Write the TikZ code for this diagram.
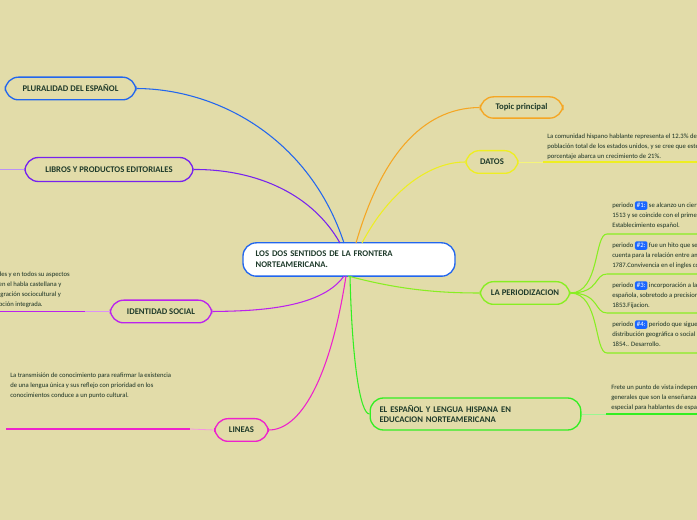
\documentclass[tikz,border=0pt]{standalone}
\usepackage{fontspec}
\setmainfont{Carlito}
\definecolor{bg}{HTML}{E2DCA9}
\definecolor{tx}{HTML}{1E3A2A}
\definecolor{cblue}{HTML}{2266EE}
\definecolor{cpurp}{HTML}{7722EE}
\definecolor{cviol}{HTML}{BB22EE}
\definecolor{cmag}{HTML}{EE22CC}
\definecolor{corg}{HTML}{F5A623}
\definecolor{cyel}{HTML}{EEEE22}
\definecolor{clime}{HTML}{88EE22}
\definecolor{cgrn}{HTML}{33EE22}
\definecolor{badge}{HTML}{1A66FF}
\begin{document}
\begin{tikzpicture}[x=0.75pt,y=-0.75pt,
  topic/.style={draw=#1,line width=1pt,rounded corners=10pt,fill=bg,text=tx,font=\bfseries\fontsize{6.5}{8}\selectfont,inner sep=0pt},
  body/.style={text=tx!85!black,font=\fontsize{5}{7.4}\selectfont,align=left,anchor=north west,inner sep=0pt},
  bdg/.style={fill=badge,text=white,rounded corners=1.5pt,inner sep=1.5pt,font=\fontsize{5}{6}\selectfont}]
\useasboundingbox (0,0) rectangle (697,520);
\fill[bg] (0,0) rectangle (697,520);
\clip (0,0) rectangle (697,520);
% center
\node[topic=cblue,fill=white,minimum width=159pt,minimum height=25pt,align=left,text width=140pt] (c) at (349,259.5) {LOS DOS SENTIDOS DE LA FRONTERA\\NORTEAMERICANA.};
% nodes
\node[topic=cblue,minimum width=98pt,minimum height=17pt] (plu) at (70.5,88.5) {PLURALIDAD DEL ESPAÑOL};
\node[topic=cpurp,minimum width=126pt,minimum height=18pt] (lib) at (109,169.5) {LIBROS Y PRODUCTOS EDITORIALES};
\node[topic=cviol,minimum width=76pt,minimum height=17pt] (ide) at (161,311.5) {IDENTIDAD SOCIAL};
\node[topic=cmag,minimum width=40pt,minimum height=17pt] (lin) at (241.5,430) {LINEAS};
\node[topic=corg,minimum width=62pt,minimum height=16pt] (top) at (521.5,107.5) {Topic principal};
\node[topic=cyel,minimum width=39pt,minimum height=17pt] (dat) at (492,162) {DATOS};
\node[topic=clime,minimum width=67pt,minimum height=17pt] (per) at (525,293) {LA PERIODIZACION};
\node[topic=cgrn,minimum width=158pt,minimum height=24pt,align=left,text width=144pt] (esp) at (475.5,414) {EL ESPAÑOL Y LENGUA HISPANA EN\\EDUCACION NORTEAMERICANA};
% connectors
\coordinate (ct) at (350,243); \coordinate (cb) at (348,276);
\draw[cblue,line width=0.8pt] (344,243) .. controls (310,140) and (220,89) .. (plu.east);
\draw[cpurp,line width=0.8pt] (340,243) .. controls (310,190) and (250,169) .. (lib.east);
\draw[corg,line width=0.8pt] (356,243) .. controls (380,160) and (420,108) .. (top.west);
\draw[cyel,line width=0.8pt] (362,243) .. controls (390,190) and (430,162) .. (dat.west);
\draw[cviol,line width=0.8pt] (344,276) .. controls (320,310) and (250,311) .. (ide.east);
\draw[cmag,line width=0.8pt] (346,276) .. controls (330,380) and (300,430) .. (lin.east);
\draw[clime,line width=0.8pt] (348,276) .. controls (400,290) and (440,293) .. (per.west);
\draw[cgrn,line width=0.8pt] (350,276) .. controls (352,360) and (360,414) .. (esp.west);
% leaf lines
\coordinate (l1) at (0,169.5); \draw[cpurp!50,line width=0.6pt] (lib.west) -- (l1);
\coordinate (l2a) at (85,311.5); \coordinate (l2b) at (0,311.5);
\draw[cviol!50,line width=0.6pt] (ide.west) -- (l2a); \draw[cviol,line width=1pt] (l2a) -- (l2b);
\coordinate (l3a) at (190,429); \coordinate (l3b) at (6,429);
\draw[cmag!50,line width=0.6pt] (lin.west) -- (l3a); \draw[cmag,line width=1pt] (l3a) -- (l3b);
\coordinate (l4a) at (543,162); \coordinate (l4b) at (697,162);
\draw[cyel!60,line width=0.6pt] (dat.east) -- (l4a); \draw[cyel,line width=1pt] (l4a) -- (l4b);
\coordinate (l5a) at (606,414); \coordinate (l5b) at (697,414);
\draw[cgrn!50,line width=0.6pt] (esp.east) -- (l5a); \draw[cgrn,line width=1pt] (l5a) -- (l5b);
\foreach \y/\n in {234/p1,274/p2,313/p3,353/p4}{
  \coordinate (\n) at (607,\y);
  \draw[clime,line width=0.8pt] (per.east) .. controls (600,293) and (594,\y) .. (\n) -- (697,\y);
}
% texts
\node[body] (t1) at (547,134) {La comunidad hispano hablante representa el 12.3\% de la\\población total de los estados unidos, y se cree que este\\porcentaje abarca un crecimiento de 21\%.};
\node[body] (t2) at (612,201) {periodo \tikz[baseline=(b.base)]\node[bdg](b){\#1:}; se alcanzo un cierto\\1513 y se coincide con el primer\\Establecimiento español.};
\node[body] (t3) at (612,241) {periodo \tikz[baseline=(b.base)]\node[bdg](b){\#2:}; fue un hito que se\\cuenta para la relación entre ambas\\1787.Convivencia en el ingles con};
\node[body] (t4) at (612,281) {periodo \tikz[baseline=(b.base)]\node[bdg](b){\#3:}; incorporación a la\\española, sobretodo a precision\\1853.Fijacion.};
\node[body] (t5) at (612,320) {periodo \tikz[baseline=(b.base)]\node[bdg](b){\#4:}; periodo que sigue la\\distribución geográfica o social\\1854.. Desarrollo.};
\node[body] (t6) at (611,385) {Frete un punto de vista independiente\\generales que son la enseñanza\\especial para hablantes de español};
\node[body] (t7) at (10,373) {La transmisión de conocimiento para reafirmar la existencia\\de una lengua única y sus reflejo con prioridad en los\\conocimientos conduce a un punto cultural.};
\node[body,anchor=north east,align=left] (t8) at (70,272) {\hspace*{-40pt}Identidades y en todos su aspectos\\\hspace*{-40pt}basadas en el habla castellana y\\\hspace*{-40pt}en la integración sociocultural y\\\hspace*{-40pt}de percepción integrada.};
\end{tikzpicture}
\end{document}
